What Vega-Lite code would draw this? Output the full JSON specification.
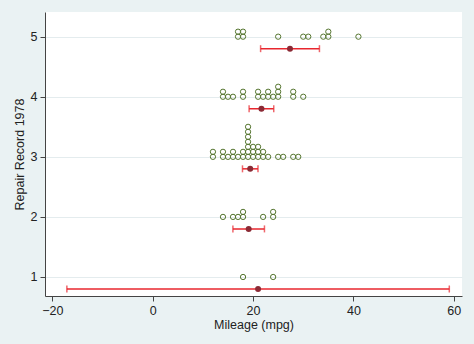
{
  "$schema": "https://vega.github.io/schema/vega-lite/v6.json",
  "width": 417,
  "height": 284,
  "autosize": {"type": "none"},
  "padding": {"left": 45, "top": 12, "right": 12, "bottom": 48},
  "background": "#eaf2f3",
  "view": {"fill": "white", "stroke": null},
  "config": {
    "font": "Liberation Sans",
    "axis": {
      "domainColor": "#444444",
      "tickColor": "#444444",
      "tickSize": 5,
      "labelFontSize": 12.5,
      "labelColor": "#222222",
      "titleFontSize": 12.5,
      "titleFontWeight": "normal",
      "titleColor": "#222222",
      "labelFlush": false,
      "labelPadding": 3
    }
  },
  "datasets": {
    "cars": [
      {"rep": 1, "mpg": 18}, {"rep": 1, "mpg": 24},
      {"rep": 2, "mpg": 14}, {"rep": 2, "mpg": 16}, {"rep": 2, "mpg": 17}, {"rep": 2, "mpg": 18}, {"rep": 2, "mpg": 18}, {"rep": 2, "mpg": 22}, {"rep": 2, "mpg": 24}, {"rep": 2, "mpg": 24},
      {"rep": 3, "mpg": 12}, {"rep": 3, "mpg": 12}, {"rep": 3, "mpg": 14}, {"rep": 3, "mpg": 14}, {"rep": 3, "mpg": 15}, {"rep": 3, "mpg": 16}, {"rep": 3, "mpg": 16}, {"rep": 3, "mpg": 17}, {"rep": 3, "mpg": 18}, {"rep": 3, "mpg": 18},
      {"rep": 3, "mpg": 19}, {"rep": 3, "mpg": 19}, {"rep": 3, "mpg": 19}, {"rep": 3, "mpg": 19}, {"rep": 3, "mpg": 19}, {"rep": 3, "mpg": 19}, {"rep": 3, "mpg": 19},
      {"rep": 3, "mpg": 20}, {"rep": 3, "mpg": 20}, {"rep": 3, "mpg": 20}, {"rep": 3, "mpg": 21}, {"rep": 3, "mpg": 21}, {"rep": 3, "mpg": 21}, {"rep": 3, "mpg": 22}, {"rep": 3, "mpg": 22},
      {"rep": 3, "mpg": 23}, {"rep": 3, "mpg": 25}, {"rep": 3, "mpg": 26}, {"rep": 3, "mpg": 28}, {"rep": 3, "mpg": 29},
      {"rep": 4, "mpg": 14}, {"rep": 4, "mpg": 14}, {"rep": 4, "mpg": 15}, {"rep": 4, "mpg": 16}, {"rep": 4, "mpg": 18}, {"rep": 4, "mpg": 18}, {"rep": 4, "mpg": 21}, {"rep": 4, "mpg": 21}, {"rep": 4, "mpg": 22},
      {"rep": 4, "mpg": 23}, {"rep": 4, "mpg": 23}, {"rep": 4, "mpg": 24}, {"rep": 4, "mpg": 25}, {"rep": 4, "mpg": 25}, {"rep": 4, "mpg": 25}, {"rep": 4, "mpg": 28}, {"rep": 4, "mpg": 28}, {"rep": 4, "mpg": 30},
      {"rep": 5, "mpg": 17}, {"rep": 5, "mpg": 17}, {"rep": 5, "mpg": 18}, {"rep": 5, "mpg": 18}, {"rep": 5, "mpg": 25}, {"rep": 5, "mpg": 30}, {"rep": 5, "mpg": 31}, {"rep": 5, "mpg": 34}, {"rep": 5, "mpg": 35}, {"rep": 5, "mpg": 35}, {"rep": 5, "mpg": 41}
    ],
    "ci": [
      {"rep": 1, "mean": 21.0, "lo": -17.12, "hi": 59.12},
      {"rep": 2, "mean": 19.125, "lo": 15.98, "hi": 22.27},
      {"rep": 3, "mean": 19.43, "lo": 17.89, "hi": 20.98},
      {"rep": 4, "mean": 21.67, "lo": 19.21, "hi": 24.12},
      {"rep": 5, "mean": 27.36, "lo": 21.5, "hi": 33.23}
    ]
  },
  "encoding": {
    "y": {
      "field": "rep", "type": "ordinal",
      "sort": "descending",
      "scale": {"type": "point", "domain": [5, 4, 3, 2, 1], "padding": 0.3635, "align": 0.565},
      "axis": {"grid": true, "gridColor": "#e4ecee", "gridWidth": 1, "labelAngle": 0, "title": "Repair Record 1978", "titlePadding": 4}
    }
  },
  "layer": [
    {
      "data": {"name": "cars"},
      "transform": [
        {"window": [{"op": "row_number", "as": "k"}], "groupby": ["rep", "mpg"]}
      ],
      "mark": {"type": "point", "shape": "circle", "filled": false, "size": 28, "strokeWidth": 1, "color": "#55752f", "opacity": 1},
      "encoding": {
        "x": {
          "field": "mpg", "type": "quantitative",
          "scale": {"domain": [-21.48, 61.65], "nice": false, "zero": false},
          "axis": {"values": [-20, 0, 20, 40, 60], "grid": false, "title": "Mileage (mpg)", "titlePadding": 2}
        },
        "yOffset": {"field": "k", "type": "quantitative", "scale": {"domain": [1, 2], "range": [0, -5], "zero": false, "nice": false}}
      }
    },
    {
      "data": {"name": "ci"},
      "mark": {"type": "rule", "color": "#e8262e", "strokeWidth": 1.5, "yOffset": 12},
      "encoding": {
        "x": {"field": "lo", "type": "quantitative"},
        "x2": {"field": "hi"}
      }
    },
    {
      "data": {"name": "ci"},
      "mark": {"type": "tick", "orient": "vertical", "color": "#e8262e", "thickness": 1.5, "size": 7, "yOffset": 12},
      "encoding": {
        "x": {"field": "lo", "type": "quantitative"}
      }
    },
    {
      "data": {"name": "ci"},
      "mark": {"type": "tick", "orient": "vertical", "color": "#e8262e", "thickness": 1.5, "size": 7, "yOffset": 12},
      "encoding": {
        "x": {"field": "hi", "type": "quantitative"}
      }
    },
    {
      "data": {"name": "ci"},
      "mark": {"type": "point", "shape": "circle", "filled": true, "size": 36, "color": "#8b2a35", "opacity": 1, "yOffset": 12},
      "encoding": {
        "x": {"field": "mean", "type": "quantitative"}
      }
    }
  ]
}
